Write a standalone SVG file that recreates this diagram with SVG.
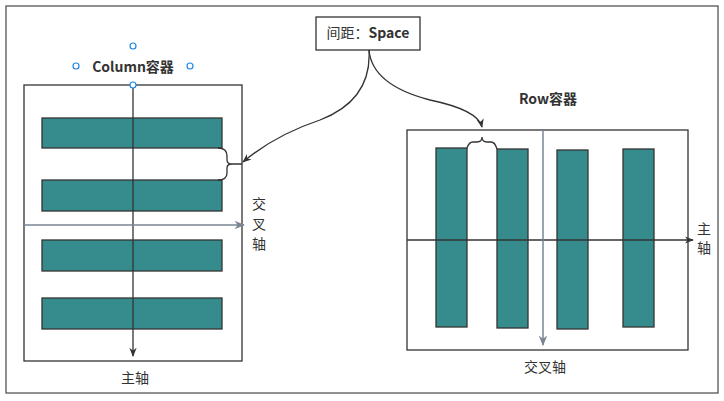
<svg xmlns="http://www.w3.org/2000/svg" width="724" height="401" viewBox="0 0 724 401">
<style>
text{font-family:"Noto Sans CJK SC","Noto Sans",sans-serif;fill:#333;font-size:14px}
.b{font-weight:bold}
.bar{fill:#368c8c;stroke:#333;stroke-width:1.3}
.box{fill:#fff;stroke:#333;stroke-width:1.3}
.ln{fill:none;stroke:#333;stroke-width:1.3}
.g{fill:none;stroke:#7a8594;stroke-width:1.5}
.h{fill:#fff;stroke:#1e88e5;stroke-width:1.2}
</style>
<defs>
<marker id="a" viewBox="0 0 10 10" refX="9" refY="5" markerWidth="7" markerHeight="7" orient="auto"><path d="M0,1 L10,5 L0,9 L3,5Z" fill="#333"/></marker>
<marker id="ag" viewBox="0 0 10 10" refX="9" refY="5" markerWidth="7" markerHeight="7" orient="auto"><path d="M0,1 L10,5 L0,9 L3,5Z" fill="#7a8594"/></marker>
</defs>
<rect width="724" height="401" fill="#fff"/>
<rect x="6" y="6" width="712" height="387" fill="#fff" stroke="#555" stroke-width="1.3"/>
<g id="column">
<text x="133" y="72" class="b" text-anchor="middle" font-size="15">Column容器</text>
<rect class="box" x="24" y="85" width="218" height="276"/>
<rect class="bar" x="42" y="118" width="180" height="30"/>
<rect class="bar" x="42" y="180" width="180" height="31"/>
<rect class="bar" x="42" y="240" width="180" height="31"/>
<rect class="bar" x="42" y="298" width="180" height="31"/>
<text x="135" y="383" text-anchor="middle">主轴</text>
<text x="259" y="209" text-anchor="middle">交</text>
<text x="259" y="229" text-anchor="middle">叉</text>
<text x="259" y="249" text-anchor="middle">轴</text>
<circle class="h" cx="133" cy="46" r="3"/><circle class="h" cx="76" cy="66" r="3"/><circle class="h" cx="190" cy="66" r="3"/>
</g>
<g id="row">
<text x="548" y="104" class="b" text-anchor="middle" font-size="15">Row容器</text>
<rect class="box" x="407" y="130" width="281" height="220"/>
<rect class="bar" x="436" y="148" width="31" height="179"/>
<rect class="bar" x="497" y="149" width="31" height="179"/>
<rect class="bar" x="557" y="150" width="31" height="179"/>
<rect class="bar" x="623" y="149" width="31" height="178"/>
<text x="704" y="234" text-anchor="middle">主</text>
<text x="704" y="253" text-anchor="middle">轴</text>
<text x="545" y="372" text-anchor="middle">交叉轴</text>
</g>
<g id="space">
<rect class="box" x="316" y="17" width="104" height="33"/>
<text x="368" y="38" text-anchor="middle" font-size="13"><tspan>间距：</tspan><tspan class="b">Space</tspan></text>
</g>
<g id="connectors">
<path class="ln" d="M133,85 V356" marker-end="url(#a)"/>
<path class="g" d="M24,225 H244" marker-end="url(#ag)"/>
<path class="ln" d="M407,240 H693" marker-end="url(#a)"/>
<path class="g" d="M543,130 V345" marker-end="url(#ag)"/>
<path class="ln" d="M218,148 Q227,148 227,156 V160 Q227,164 232,164 H242 M232,164 Q227,164 227,168 V173 Q227,180 218,180"/>
<path class="ln" d="M467,148 Q469,142 473,142 H477 Q482,142 482,137 M482,137 Q482,142 487,142 H491 Q495,142 497,149"/>
<path class="ln" d="M369,50 Q372,100 320,120 Q275,135 243,162" marker-end="url(#a)"/>
<path class="ln" d="M369,50 Q372,85 430,100 Q478,110 482,127" marker-end="url(#a)"/>
<circle class="h" cx="133" cy="85" r="3"/>
</g>
</svg>
